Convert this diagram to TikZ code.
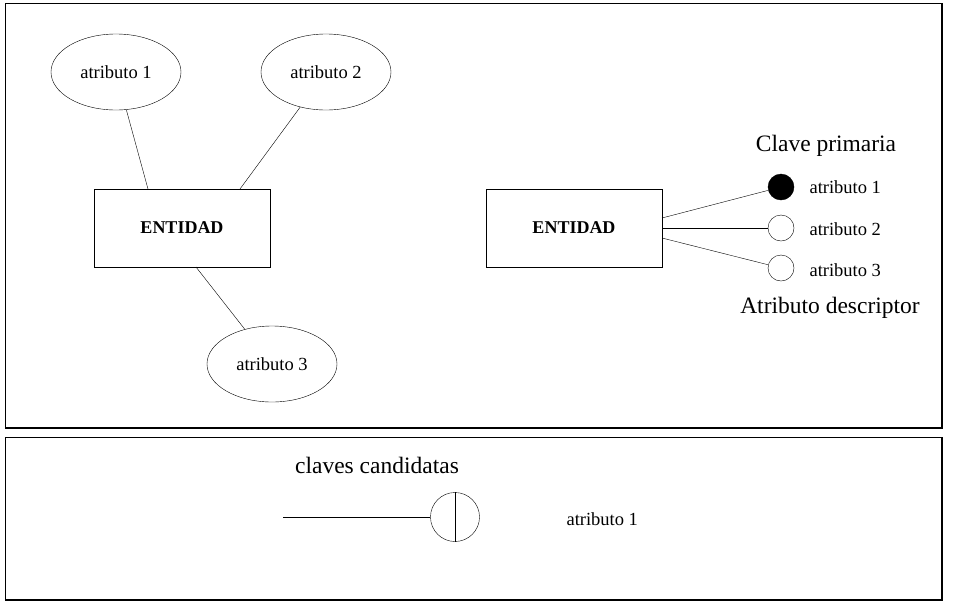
\documentclass[tikz,border=0pt]{standalone}
\usetikzlibrary{shapes.geometric}
\usepackage{fontspec}
\setmainfont{Liberation Serif}
\begin{document}
\begin{tikzpicture}[x=1pt,y=-1pt,
  attr/.style={draw,ellipse,minimum width=130pt,minimum height=76pt,font=\fontsize{18.5}{20}\selectfont},
  ent/.style={draw,minimum width=176pt,minimum height=78pt,font=\bfseries\fontsize{18}{20}\selectfont},
  dot/.style={draw,circle,minimum size=26pt,inner sep=0pt},
  lbl/.style={font=\fontsize{18.5}{20}\selectfont,anchor=west},
  big/.style={font=\fontsize{23.5}{26}\selectfont}]
\useasboundingbox (0,0) rectangle (954,606);
\fill[white] (0,0) rectangle (954,606);
\draw[line width=1pt] (5,3) rectangle (942,428);
\draw[line width=2.5pt] (942,3) -- (942,428) -- (5,428);
\draw[line width=1pt] (5,437) rectangle (942,600);
\draw[line width=2.5pt] (942,437) -- (942,600) -- (5,600);
\node[attr] (a1) at (116,72) {atributo 1};
\node[attr] (a2) at (326,72) {atributo 2};
\node[attr] (a3) at (272,364) {atributo 3};
\node[ent] (e1) at (182,228) {ENTIDAD};
\draw (a1) -- (148,189);
\draw (a2) -- (240,189);
\draw (a3) -- (196,267);
\node[ent] (e2) at (574,228) {ENTIDAD};
\node[dot,fill=black] (c1) at (781,187) {};
\node[dot] (c2) at (781,228) {};
\node[dot] (c3) at (781,268) {};
\draw (662,218) -- (c1);
\draw (662,228) -- (c2);
\draw (662,238) -- (c3);
\node[lbl] (t1) at (806,187) {atributo 1};
\node[lbl] (t2) at (806,229) {atributo 2};
\node[lbl] (t3) at (806,270) {atributo 3};
\node[big] (cp) at (826,146) {Clave primaria};
\node[big] (ad) at (830,308) {Atributo descriptor};
\node[big] (cc) at (377,465) {claves candidatas};
\node[draw,circle,minimum size=49pt,inner sep=0pt] (k) at (455,517) {};
\draw (k.north) -- (k.south);
\coordinate (ks) at (283,517);
\draw (ks) -- (k.west);
\node[lbl] (ka) at (563,519) {atributo 1};
\end{tikzpicture}
\end{document}
